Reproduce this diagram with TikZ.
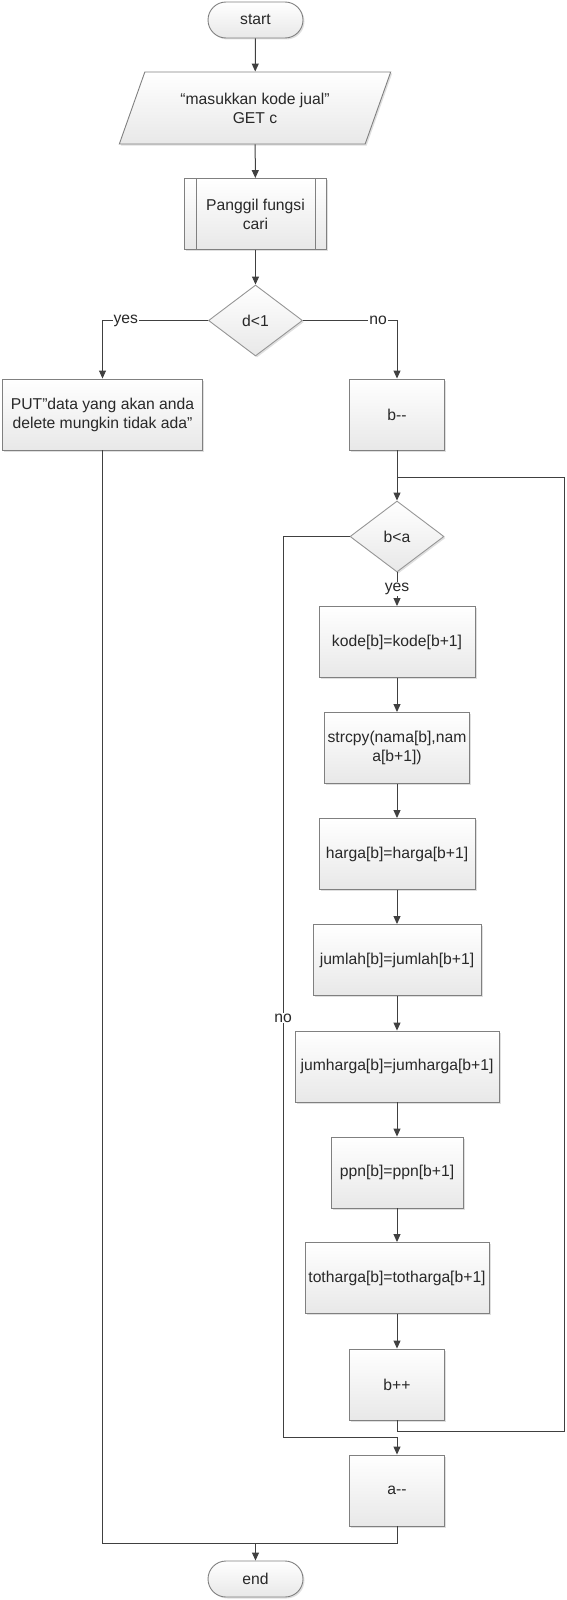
\documentclass[tikz,border=0pt]{standalone}
\usepackage{fontspec}
\setmainfont{Liberation Sans}
\usepackage{tikz}
\usetikzlibrary{arrows.meta}
\usetikzlibrary{shapes.geometric}
\usetikzlibrary{shadows}
\definecolor{linegray}{RGB}{64, 64, 64}
\definecolor{bordergray}{RGB}{128, 128, 128}
\definecolor{diagray}{RGB}{150, 150, 150}
\definecolor{fillgray}{RGB}{232, 232, 232}
\definecolor{textgray}{RGB}{40, 40, 40}

\tikzset{
  base/.style={text=textgray, align=center, inner sep=2pt, font=\fontsize{15.7}{19}\selectfont,
               top color=white, bottom color=fillgray, draw=bordergray, line width=0.9pt,
               drop shadow={shadow xshift=1.5pt, shadow yshift=-1.5pt, opacity=0.25}},
  flowbox/.style={base, rectangle, minimum height=71pt},
  termbox/.style={base, rectangle, rounded corners=18pt, minimum width=95pt, minimum height=36pt},
  iobox/.style={base, trapezium, trapezium left angle=62.8, trapezium right angle=117.2,
               trapezium stretches=true, minimum width=271.6pt, minimum height=72pt},
  decbox/.style={base, diamond, draw=diagray, inner sep=0pt, minimum width=94pt, minimum height=71pt},
  flowline/.style={draw=linegray, line width=1pt},
  arrowline/.style={flowline, -{Triangle[length=8pt, width=7pt]}},
  lbl/.style={fill=white, text=textgray, inner sep=1pt, font=\fontsize{15.7}{19}\selectfont}
}

\begin{document}
\begin{tikzpicture}[x=1pt, y=-1pt]
    % Frame to fix the page size:
    \useasboundingbox (0,0) rectangle (567,1600);

    % main column
    \node[termbox]                      (start)    at (255.5,  20.0) {start};
    \node[iobox]                        (input)    at (255.0, 108.0) {“masukkan kode jual”\\GET c};
    \node[flowbox, minimum width=142pt] (cari)     at (255.5, 214.0) {Panggil fungsi\\cari};
    \node[decbox]                       (dsmall)   at (255.5, 320.5) {d<1};
    \node[flowbox, minimum width=200pt] (put)      at (102.5, 414.5) {PUT”data yang akan anda\\delete mungkin tidak ada”};
    \node[flowbox, minimum width=95pt]  (bmin)     at (397.0, 414.5) {b-{}-};
    \node[decbox]                       (bsmall)   at (397.0, 536.5) {b<a};

    % loop body
    \node[flowbox, minimum width=156pt] (kode)     at (397.0, 642.0) {kode[b]=kode[b+1]};
    \node[flowbox, minimum width=145pt] (nama)     at (397.0, 748.0) {strcpy(nama[b],nam\\a[b+1])};
    \node[flowbox, minimum width=156pt] (harga)    at (397.0, 854.0) {harga[b]=harga[b+1]};
    \node[flowbox, minimum width=168pt] (jumlah)   at (397.0, 960.0) {jumlah[b]=jumlah[b+1]};
    \node[flowbox, minimum width=204pt] (jumharga) at (397.0,1066.5) {jumharga[b]=jumharga[b+1]};
    \node[flowbox, minimum width=132pt] (ppn)      at (397.0,1172.5) {ppn[b]=ppn[b+1]};
    \node[flowbox, minimum width=184pt] (totharga) at (397.0,1278.0) {totharga[b]=totharga[b+1]};
    \node[flowbox, minimum width=95pt]  (bplus)    at (397.0,1384.5) {b++};
    \node[flowbox, minimum width=95pt]  (amin)     at (397.0,1490.5) {a-{}-};
    \node[termbox]                      (stop)     at (255.5,1579.0) {end};

    % inner bars of the predefined process
    \draw[draw=bordergray, line width=0.9pt] ([xshift=12pt]cari.north west) -- ([xshift=12pt]cari.south west);
    \draw[draw=bordergray, line width=0.9pt] ([xshift=-12pt]cari.north east) -- ([xshift=-12pt]cari.south east);

    % turning points
    \coordinate (loopBR) at (564,1431);
    \coordinate (loopTR) at (564, 477);
    \coordinate (loopJ)  at (397, 477);
    \coordinate (noBot)  at (283,1437);
    \coordinate (mergeL) at (102.5,1543);
    \coordinate (mergeC) at (255.5,1543);

    % connectors
    \draw[arrowline] (start) -- (input);
    \draw[arrowline] (input) -- (cari);
    \draw[arrowline] (cari) -- (dsmall);
    \draw[arrowline] (dsmall.west) -| node[lbl, pos=0.39] {yes} (put.north);
    \draw[arrowline] (dsmall.east) -| node[lbl, pos=0.40] {no} (bmin.north);
    \draw[arrowline] (bmin) -- (bsmall);
    \draw[arrowline] (bsmall) -- node[lbl] {yes} (kode);
    \draw[arrowline] (kode) -- (nama);
    \draw[arrowline] (nama) -- (harga);
    \draw[arrowline] (harga) -- (jumlah);
    \draw[arrowline] (jumlah) -- (jumharga);
    \draw[arrowline] (jumharga) -- (ppn);
    \draw[arrowline] (ppn) -- (totharga);
    \draw[arrowline] (totharga) -- (bplus);
    \draw[flowline]  (bplus.south) |- (loopBR) -- (loopTR) -- (loopJ);
    \draw[arrowline] (bsmall.west) -| (noBot) -| (amin.north);
    \node[lbl] (nolbl) at (283,1018) {no};
    \draw[flowline]  (put.south) -- (mergeL) -| (amin.south);
    \draw[arrowline] (mergeC) -- (stop.north);
\end{tikzpicture}
\end{document}
